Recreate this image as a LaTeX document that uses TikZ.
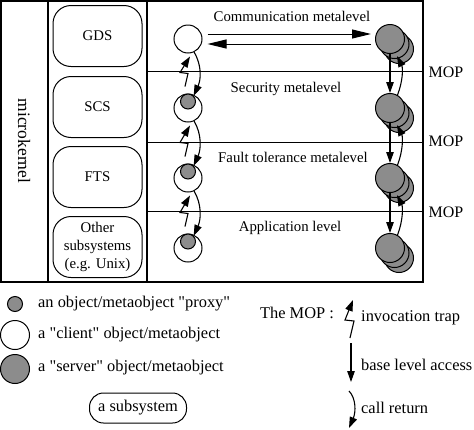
\documentclass[tikz,border=0pt]{standalone}
\usepackage{fontspec}
\setmainfont{Liberation Serif}
\newfontfamily\qfont{Liberation Serif}
\usetikzlibrary{arrows.meta,calc}
\definecolor{objgray}{gray}{0.55}
\newcommand\fsLab{\fontsize{14.8}{17}\selectfont}
\newcommand\fsLeg{\qfont\fontsize{16.4}{19}\selectfont}
\newcommand\fsMk{\fontsize{17.5}{20}\selectfont}
\begin{document}
\begin{tikzpicture}[x=1pt,y=-1pt,
  frame/.style={line width=1.6pt},
  sepline/.style={line width=0.9pt},
  subsys/.style={draw, line width=1pt, rounded corners=18pt, minimum width=89pt, minimum height=61pt, align=center, inner sep=2pt, font=\fsLab},
  client/.style={circle, draw, fill=white, line width=1pt, minimum size=28pt, inner sep=0pt},
  proxy/.style={circle, draw, fill=objgray, line width=1pt, minimum size=15pt, inner sep=0pt},
  server/.style={circle, draw, fill=objgray, line width=1pt, minimum size=29pt, inner sep=0pt},
  lbl/.style={font=\fsLab, inner sep=0pt},
  leg/.style={font=\fsLeg, inner sep=0pt, anchor=west},
  mop/.style={font=\fontsize{16}{19}\selectfont, inner sep=0pt},
  harrow/.style={line width=1pt, -{Triangle[length=19pt,width=9pt]}},
  varrow/.style={line width=1.1pt, -{Triangle[length=11pt,width=7.5pt]}},
]
\useasboundingbox (0,0) rectangle (474,429);

% frame
\draw[frame] (0.8,0.8) rectangle (423,282);
\draw[frame] (48,0.8) -- (48,282);
\draw[frame] (147,0.8) -- (147,282);
\draw[sepline] (147,71) -- (423,71);
\draw[sepline] (147,142) -- (423,142);
\draw[sepline] (147,211) -- (423,211);

% microkernel and subsystems
\node[font=\fsMk, rotate=-90, inner sep=0pt] (mk) at (24,141) {microkernel};
\node[subsys] (gds) at (97.5,36) {GDS};
\node[subsys] (scs) at (97.5,107) {SCS};
\node[subsys] (fts) at (97.5,177) {FTS};
\node[subsys, font=\fontsize{14.8}{18}\selectfont] (oth) at (97.5,247) {Other\\subsystems\\(e.g. Unix)};

% level labels
\node[lbl] (lcom) at (292,16) {Communication metalevel};
\node[lbl] (lsec) at (286,89) {Security metalevel};
\node[lbl] (lft) at (293,157) {Fault tolerance metalevel};
\node[lbl] (lapp) at (290,228) {Application level};

\node[mop] (m1) at (446,72) {MOP};
\node[mop] (m2) at (446,141) {MOP};
\node[mop] (m3) at (446,212) {MOP};

% clients and proxies
\node[client] (c1) at (188,39) {};
\foreach \i/\y in {2/108,3/178,4/248}{
  \node[client] (c\i) at (188,\y) {};
  \node[proxy] (p\i) at (188,\y-6.5) {};
}

% servers
\foreach \i/\y in {1/39,2/108,3/178,4/248}{
  \node[server] (sc\i) at (399,\y+10) {};
  \node[server] (sb\i) at (394.5,\y+5) {};
  \node[server] (sa\i) at (390,\y) {};
}

% communication arrows
\draw[harrow] ($(c1.east)+(5,-5)$) -- ($(sa1.west)+(-4,-5)$);
\draw[harrow] ($(sa1.west)+(-4,5)$) -- ($(c1.east)+(5,5)$);

% MOP arrows
\foreach \i/\j in {1/2,2/3,3/4}{
  \draw[varrow] ($(c\j.north)+(-3,-7)$) -- ++(3,-13) -- ++(-8,-1) -- ($(c\i.south)+(2,3)$);
  \draw[varrow] (c\i.-65) .. controls ($(c\i.south)+(14,12)$) and ($(p\j.north)+(13,-14)$) .. (p\j.45);
  \draw[varrow] (sa\i.south) -- (sa\j.north);
  \draw[varrow] (sa\j.60) .. controls ($(sa\j.north)+(13,-12)$) and ($(sa\i.south)+(13,14)$) .. ($(sa\i.south)+(7,2)$);
}

% legend
\node[proxy] (lp) at (15,304) {};
\node[client, minimum size=29pt] (lc) at (15,335) {};
\node[server] (ls) at (15,369) {};
\node[leg] (tp) at (38,304) {an object/metaobject "proxy"};
\node[leg] (tc) at (38,335) {a "client" object/metaobject};
\node[leg] (ts) at (38,368) {a "server" object/metaobject};
\node[subsys, minimum width=97pt, minimum height=30pt, rounded corners=14pt, font=\fsLeg] (lsub) at (138,408) {a subsystem};

\node[font=\fsLeg, inner sep=0pt] (tmop) at (297,313) {The MOP :};
\coordinate (ltA) at (350,338);
\coordinate (ltB) at (353,300);
\draw[varrow] (ltA) -- (354,321) -- (345,320) -- (ltB);
\coordinate (lbA) at (351,343);
\coordinate (lbB) at (351,382);
\draw[varrow] (lbA) -- (lbB);
\coordinate (lcA) at (349,391);
\coordinate (lcB) at (349,428);
\draw[varrow] (lcA) .. controls (356,398) and (356,412) .. (lcB);
\node[leg] (tinv) at (361,318) {invocation trap};
\node[leg] (tbase) at (361,365) {base level access};
\node[leg] (tcall) at (361,408) {call return};
\end{tikzpicture}
\end{document}
